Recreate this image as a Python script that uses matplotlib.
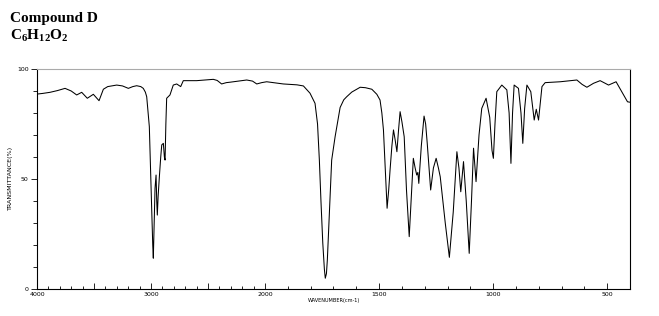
import numpy as np
import matplotlib
matplotlib.use("Agg")
import matplotlib.pyplot as plt
from matplotlib.ticker import FixedLocator

wavenumber = [4000, 3950, 3886, 3820, 3754, 3700, 3652, 3608, 3559, 3506, 3456, 3418, 3380, 3301,
              3250, 3199, 3160, 3126, 3090, 3068, 3050, 3038, 3025, 3015, 3005, 2994, 2985, 2980,
              2972, 2965, 2956, 2950, 2945, 2938, 2927, 2915, 2906, 2892, 2883, 2877, 2870, 2863,
              2834, 2805, 2775, 2740, 2717, 2600, 2454, 2420, 2381, 2340, 2307, 2161, 2110, 2073,
              2030, 1993, 1920, 1860, 1832, 1803, 1781, 1770, 1762, 1755, 1747, 1740, 1736, 1731,
              1727, 1718, 1708, 1693, 1680, 1671, 1655, 1642, 1620, 1583, 1560, 1532, 1510, 1496,
              1488, 1481, 1473, 1465, 1458, 1452, 1444, 1437, 1430, 1422, 1415, 1408, 1400, 1390,
              1380, 1368, 1360, 1350, 1342, 1335, 1330, 1326, 1315, 1303, 1296, 1289, 1274, 1262,
              1250, 1240, 1232, 1210, 1192, 1175, 1159, 1150, 1142, 1135, 1130, 1118, 1105, 1095,
              1086, 1080, 1075, 1062, 1050, 1031, 1015, 1005, 999, 992, 984, 962, 940, 930, 922,
              915, 908, 889, 878, 870, 862, 852, 835, 826, 820, 811, 801, 793, 786, 772, 706, 633,
              610, 589, 560, 531, 494, 461, 436, 411, 400]
transmittance = [88.6, 88.9, 89.4, 90.2, 91.2, 90.0, 88.2, 89.4, 86.7, 88.5, 85.6, 90.8, 92.0, 92.7,
                 92.3, 91.2, 92.0, 92.4, 92.0, 91.2, 89.5, 87.4, 80, 73.8, 55, 35.9, 20, 14,
                 30, 45.8, 51.8, 40, 33.6, 42, 51, 60, 65.5, 66.2, 60, 58.6, 75, 86.7,
                 88.2, 92.7, 93.2, 92.0, 94.7, 94.7, 95.3, 94.8, 93.2, 93.8, 94.0, 95.0, 94.5, 93.2,
                 93.8, 94.2, 93.2, 92.8, 92.3, 89, 84.4, 75, 58.6, 40, 20.9, 9, 4.9, 7,
                 13.2, 35, 58.6, 69.2, 77, 82.5, 86, 87.4, 89.5, 91.7, 91.5, 90.8, 88.5, 85.9,
                 80, 72.3, 55, 36.7, 45, 54.1, 65, 72.3, 68, 62.4, 72, 80.6, 76, 69.2,
                 45, 23.8, 40, 59.4, 55, 51.8, 53, 48, 65, 78.6, 75, 66.2, 45, 55,
                 59.4, 55, 51, 30, 14.4, 35, 62.4, 55, 44.2, 52, 57.9, 40, 16.2, 40,
                 64, 56, 48.8, 70, 82.1, 86.7, 78, 63, 59.4, 75, 89.7, 92.7, 90.5, 80, 57.1,
                 80, 92.7, 91.2, 80, 66.2, 82, 92.7, 89.7, 82, 76.8, 81.7, 76.8, 85, 92.0, 93.8, 94.2, 95.0,
                 93, 91.7, 93.5, 94.7, 92.7, 94.2, 89.7, 85.1, 84.9]

x_tick_values = [4000, 3000, 2000, 1500, 1000, 500]
x_tick_labels = ["4000", "3000", "2000", "1500", "1000", "500"]
y_tick_values = [0, 50, 100]
y_tick_labels = ["0", "50", "100"]


def fwd(w):
    w = np.asarray(w, dtype=float)
    return np.where(w <= 2000, w, 2000 + (w - 2000) / 2.0)


def inv(p):
    p = np.asarray(p, dtype=float)
    return np.where(p <= 2000, p, 2000 + (p - 2000) * 2.0)


plt.rcParams['mathtext.fontset'] = 'custom'
plt.rcParams['mathtext.rm'] = 'Liberation Serif:bold'
plt.rcParams['mathtext.bf'] = 'Liberation Serif:bold'

fig = plt.figure(figsize=(6.59, 3.16), dpi=100)
ax = fig.add_axes([37 / 659, 27 / 316, (630 - 37) / 659, (289 - 69) / 316])
ax.set_xscale('function', functions=(fwd, inv))
ax.plot(wavenumber, transmittance, color='black', lw=0.75)
ax.set_xlim(4000, 400)
ax.set_ylim(0, 100)

ax.set_xticks(x_tick_values + [3500, 2500])
ax.set_xticklabels(x_tick_labels + ["", ""])
ax.xaxis.set_minor_locator(FixedLocator([w for w in range(400, 4001, 100)]))
ax.set_yticks(y_tick_values)
ax.set_yticklabels(y_tick_labels)
ax.yaxis.set_minor_locator(FixedLocator(list(range(0, 101, 10))))

ax.tick_params(axis='x', which='major', direction='in', length=4, width=0.6, labelsize=4.5, pad=2)
ax.tick_params(axis='x', which='minor', direction='in', length=2, width=0.6)
ax.tick_params(axis='y', which='major', direction='out', length=4, width=0.6, labelsize=4.5, pad=2)
ax.tick_params(axis='y', which='minor', direction='out', length=3, width=0.6)

for s in ['left', 'right', 'bottom']:
    ax.spines[s].set_linewidth(0.8)
    ax.spines[s].set_color('black')
ax.spines['top'].set_color('#aaaaaa')
ax.spines['top'].set_linewidth(0.8)

ax.set_xlabel('WAVENUMBER(cm-1)', fontsize=3.6, labelpad=1)
ax.set_ylabel('TRANSMITTANCE(%)', fontsize=4.6, labelpad=3)

fig.text(10 / 659, 1 - 22 / 316, 'Compound D', fontfamily='Liberation Serif',
         fontweight='bold', fontsize=11, va='baseline', ha='left')
fig.text(10 / 659, 1 - 40 / 316, r'$\mathbf{C_6H_{12}O_2}$', fontsize=11,
         va='baseline', ha='left')

fig.savefig('out.png', dpi=100)
